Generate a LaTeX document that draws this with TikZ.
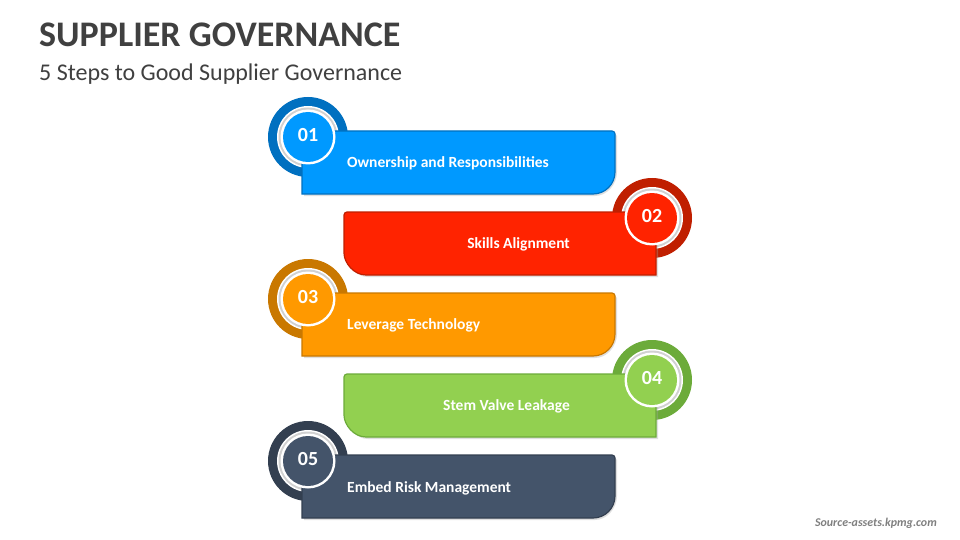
\documentclass[tikz,border=0pt]{standalone}
\usepackage{fontspec}
\setmainfont{Carlito}
\usetikzlibrary{calc}
\definecolor{txtgray}{HTML}{404040}
\definecolor{srcgray}{HTML}{7F7F7F}
\definecolor{bluefill}{HTML}{0099FF}
\definecolor{bluering}{HTML}{0070C0}
\definecolor{redfill}{HTML}{FF2300}
\definecolor{redring}{HTML}{C01F00}
\definecolor{orangefill}{HTML}{FF9900}
\definecolor{orangering}{HTML}{C97800}
\definecolor{greenfill}{HTML}{92D050}
\definecolor{greenring}{HTML}{6CAB3A}
\definecolor{navyfill}{HTML}{44546A}
\definecolor{navyring}{HTML}{333F50}
\tikzset{
  bartext/.style={font=\fontsize{15.5}{18}\selectfont\bfseries, text=white, inner sep=0pt},
  numtext/.style={font=\fontsize{20}{22}\selectfont\bfseries, text=white, inner sep=0pt},
}
% ring behind bar
\newcommand\ringback[3]{% x, y, ringcolor
  \fill[#3] (#1,#2) circle[radius=40];
  \fill[white] (#1,#2) circle[radius=31];
  \fill[black!18] (#1,#2) circle[radius=29.5];
}
% inner disk on top of bar
\newcommand\ringfront[5]{% x,y,fill,number,name
  \fill[white] (#1,#2) circle[radius=27.5];
  \fill[#3] (#1,#2) circle[radius=25];
  \node[numtext] (#5) at (#1,#2-2) {#4};
}
% bar with rounded bottom-right (circle at left)
\newcommand\barL[3]{% top, fill, border
  \fill[black!35, opacity=0.35] (304,#1+2) -- (614,#1+2) -- (617,#1+5) -- (617,#1+41)
    .. controls (617,#1+41+12.15) and (617-22+12.15,#1+65) .. (617-22,#1+65) -- (304,#1+65) -- cycle;
  \filldraw[fill=#2, draw=#3, line width=1.2] (302,#1) -- (612,#1)
    .. controls (613.7,#1) and (615,#1+1.3) .. (615,#1+3) -- (615,#1+41)
    .. controls (615,#1+41+12.15) and (615-22+12.15,#1+63) .. (615-22,#1+63) -- (302,#1+63) -- cycle;
}
% bar with rounded bottom-left (circle at right)
\newcommand\barR[3]{% top, fill, border
  \fill[black!35, opacity=0.35] (349,#1+2) -- (658,#1+2) -- (658,#1+65) -- (368,#1+65)
    .. controls (368-12.15,#1+65) and (346,#1+65-12.15) .. (346,#1+43) -- (346,#1+5) -- cycle;
  \filldraw[fill=#2, draw=#3, line width=1.2] (347,#1) -- (656,#1) -- (656,#1+63) -- (366,#1+63)
    .. controls (366-12.15,#1+63) and (344,#1+63-12.15) .. (344,#1+41) -- (344,#1+3)
    .. controls (344,#1+1.3) and (345.3,#1) .. (347,#1) -- cycle;
}
\begin{document}
\begin{tikzpicture}[x=1pt,y=-1pt]
\useasboundingbox[fill=white] (0,0) rectangle (960,540);
\node[anchor=base west, inner sep=0pt, text=txtgray, font=\fontsize{36}{40}\selectfont\bfseries] (title) at (39,47) {SUPPLIER GOVERNANCE};
\node[anchor=base west, inner sep=0pt, text=txtgray, font=\fontsize{24}{28}\selectfont] (subtitle) at (39,81) {5 Steps to Good Supplier Governance};
\node[anchor=base east, inner sep=0pt, text=srcgray, font=\fontsize{11.9}{14}\selectfont\bfseries\itshape] (source) at (937,526) {Source-assets.kpmg.com};

% step 1
\ringback{308}{137}{bluering}
\barL{131}{bluefill}{bluering}
\ringfront{308}{137}{bluefill}{01}{n1}
\node[bartext, anchor=west] (t1) at (347,163) {Ownership and Responsibilities};

% step 2
\ringback{652}{218}{redring}
\barR{212}{redfill}{redring}
\ringfront{652}{218}{redfill}{02}{n2}
\node[bartext, anchor=east] (t2) at (570,244) {Skills Alignment};

% step 3
\ringback{308}{299}{orangering}
\barL{293}{orangefill}{orangering}
\ringfront{308}{299}{orangefill}{03}{n3}
\node[bartext, anchor=west] (t3) at (347,325) {Leverage Technology};

% step 4
\ringback{652}{380}{greenring}
\barR{374}{greenfill}{greenring}
\ringfront{652}{380}{greenfill}{04}{n4}
\node[bartext, anchor=east] (t4) at (570,406) {Stem Valve Leakage};

% step 5
\ringback{308}{461}{navyring}
\barL{455}{navyfill}{navyring}
\ringfront{308}{461}{navyfill}{05}{n5}
\node[bartext, anchor=west] (t5) at (347,488) {Embed Risk Management};
\end{tikzpicture}
\end{document}
